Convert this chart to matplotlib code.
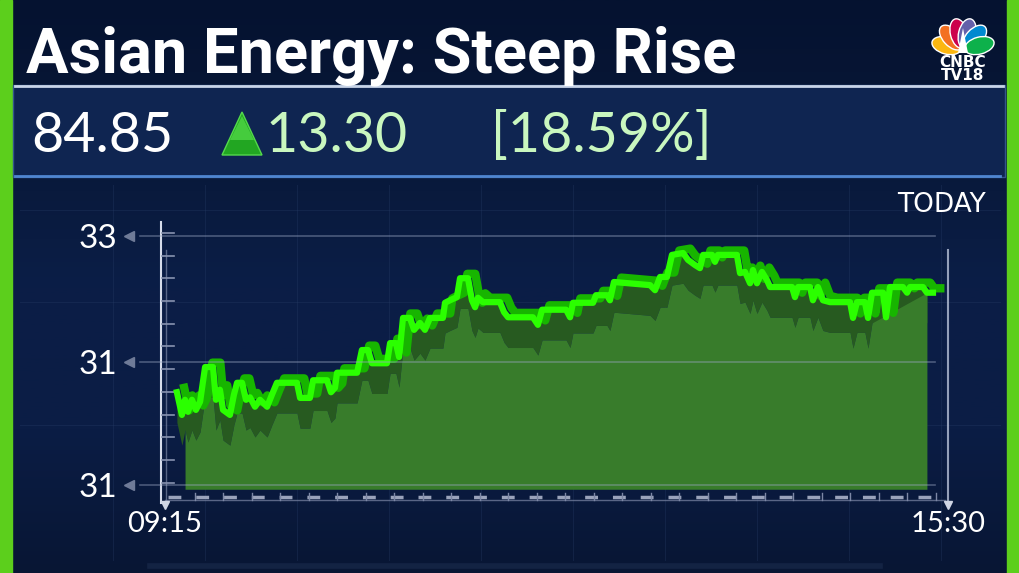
import numpy as np
import matplotlib.pyplot as plt
from matplotlib.patches import Rectangle, Polygon, Ellipse
from matplotlib.colors import LinearSegmentedColormap

# minutes after 09:15 and the price
times = [5.7, 8.1, 9.6, 11.0, 12.9, 14.8, 16.8, 19.2, 23.0, 24.4,
         26.3, 27.8, 31.1, 33.0, 34.5, 36.9, 38.8, 40.7, 43.1, 45.5,
         48.9, 51.2, 53.6, 63.2, 64.7, 69.4, 70.9, 77.6, 79.5, 81.4,
         82.4, 92.0, 94.3, 97.2, 99.1, 106.3, 107.8, 110.6, 112.1, 114.0,
         117.3, 119.3, 122.1, 124.5, 126.9, 133.1, 134.1, 136.5, 139.8, 141.3,
         145.1, 147.0, 148.5, 149.9, 152.3, 160.4, 162.4, 164.3, 176.2, 178.6,
         180.6, 192.1, 194.0, 195.4, 205.0, 206.4, 211.7, 213.1, 215.0, 232.3,
         234.7, 237.1, 240.4, 242.8, 248.1, 250.5, 253.8, 256.2, 257.7, 262.0,
         263.4, 264.8, 273.9, 275.4, 277.8, 280.2, 281.6, 283.5, 285.9, 288.3,
         289.8, 300.3, 301.7, 303.2, 308.9, 310.3, 312.7, 315.1, 318.5, 328.1,
         329.5, 331.4, 335.2, 336.7, 338.6, 343.9, 345.3, 347.2, 353.4, 355.4,
         356.8, 363.0, 364.9, 367.8]
prices = [30.52, 30.16, 30.40, 30.21, 30.40, 30.24, 30.37, 30.92, 30.92, 30.40,
          30.56, 30.24, 30.16, 30.48, 30.67, 30.67, 30.40, 30.44, 30.29, 30.40,
          30.29, 30.48, 30.67, 30.67, 30.43, 30.43, 30.71, 30.71, 30.52, 30.59,
          30.83, 30.83, 31.19, 31.19, 30.98, 30.98, 31.30, 31.30, 31.08, 31.70,
          31.70, 31.51, 31.62, 31.51, 31.70, 31.70, 31.94, 31.98, 32.03, 32.33,
          32.33, 31.98, 31.87, 32.02, 31.95, 31.95, 31.79, 31.71, 31.71, 31.59,
          31.83, 31.83, 31.71, 31.94, 31.94, 32.06, 32.06, 31.98, 32.27, 32.22,
          32.14, 32.35, 32.35, 32.70, 32.73, 32.62, 32.54, 32.49, 32.70, 32.70,
          32.59, 32.70, 32.70, 32.41, 32.43, 32.25, 32.46, 32.25, 32.43, 32.30,
          32.19, 32.19, 32.03, 32.19, 32.19, 31.98, 32.19, 31.98, 31.95, 31.95,
          31.70, 31.95, 31.95, 31.70, 32.10, 32.10, 31.71, 32.19, 32.19, 32.10,
          32.19, 32.19, 32.10, 32.10]

y_ticks = [29.05, 31, 33]
y_labels = ['31', '31', '33']
x_ticks = [0, 375]
x_labels = ['09:15', '15:30']

title = 'Asian Energy: Steep Rise'
last_price = '84.85'
change = '13.30'
change_pct = '[18.59%]'

W, H = 1019, 573
num_font = ['Lato', 'DejaVu Sans']
fig = plt.figure(figsize=(W / 100, H / 100), dpi=100)
fig.patch.set_facecolor('#0a1c42')

# background / frame, drawn in pixel units
bg = fig.add_axes([0, 0, 1, 1])
bg.set_xlim(0, W)
bg.set_ylim(H, 0)
bg.axis('off')

grad = np.linspace(0, 1, 256).reshape(-1, 1)
bg_cmap = LinearSegmentedColormap.from_list('bg', ['#051230', '#081838', '#0b1e47', '#0b1d45', '#081634'])
bg.imshow(grad, extent=[0, W, H, 0], aspect='auto', cmap=bg_cmap, zorder=0)

# faint background grid
for gx in np.arange(113, W, 92):
    bg.plot([gx, gx], [185, 560], color='#2a3f6a', lw=0.8, alpha=0.3, zorder=1)
for gy in [210, 302, 425]:
    bg.plot([20, 1000], [gy, gy], color='#2a3f6a', lw=0.8, alpha=0.3, zorder=1)

bg.add_patch(Rectangle((0, 0), 12, H, color='#5ccf1c', zorder=2))
bg.add_patch(Rectangle((1007, 0), 12, H, color='#5ccf1c', zorder=2))

# quote box
bg.add_patch(Rectangle((13, 85), 992, 92, fc='#0f2551', ec='#34568a', lw=1, zorder=2))
bg.plot([15, 1003], [86, 86], color='#c8d4e8', lw=2, zorder=3)
bg.plot([15, 1000], [176, 176], color='#4f86d0', lw=2, zorder=3)

bg.text(26, 73, title, fontsize=45.5, fontweight='bold', color='white',
        family=['Roboto', 'DejaVu Sans'], va='baseline', zorder=4)
bg.text(31, 152, last_price, fontsize=40, color='white', family=num_font, va='baseline', zorder=4)
bg.text(266, 152, change, fontsize=40, color='#c9f7bf', family=num_font, va='baseline', zorder=4)
bg.text(491, 152, change_pct, fontsize=40, color='#c9f7bf', family=num_font, va='baseline', zorder=4)
bg.add_patch(Polygon([(222, 155), (262, 155), (242, 112)], closed=True, fc='#22a622', ec='#54d94c', lw=1, zorder=4))
bg.add_patch(Polygon([(230, 140), (254, 140), (242, 116)], closed=True, fc='#45cc3d', ec='none', zorder=4))

bg.text(986, 212, 'TODAY', fontsize=19, color='white', family=['DejaVu Sans'], ha='right', va='baseline', zorder=4)

# CNBC TV18 logo
logo_colors = ['#fcb711', '#f37021', '#cc004c', '#6460aa', '#0089d0', '#0db14b']
for ang, col in zip([165, 133, 104, 76, 47, 15], logo_colors):
    a = np.radians(ang)
    bg.add_patch(Ellipse((963 + 17 * np.cos(a), 50 - 17 * np.sin(a)), 30, 17, angle=-ang,
                         fc=col, ec='white', lw=1, zorder=4))
bg.add_patch(Polygon([(958, 53), (968, 53), (963, 28)], closed=True, fc='white', zorder=5))
bg.text(963, 67, 'CNBC', fontsize=11, fontweight='bold', color='white', family=['DejaVu Sans'],
        ha='center', va='baseline', zorder=4)
bg.text(963, 80, 'TV18', fontsize=11, fontweight='bold', color='white', family=['DejaVu Sans'],
        ha='center', va='baseline', zorder=4)

# axis furniture
bg.plot([161, 161], [222, 503], color='#d6dcea', lw=1.5, zorder=3)
bg.plot([166, 166], [250, 500], color='#8c98b5', lw=1, alpha=0.6, zorder=3)
for py in np.arange(233, 500, 22.7):
    bg.plot([162, 174], [py, py], color='#8893b0', lw=1.2, zorder=3)
bg.plot([948, 948], [250, 505], color='#b8c2d8', lw=1.5, alpha=0.8, zorder=3)
bg.plot([165, 945], [500, 500], color='#7d88a6', lw=1, alpha=0.7, zorder=3)
bg.plot([168, 945], [497, 497], color='#9aa3bb', lw=2.5, dashes=(3.7, 4.3), zorder=3)
for tx in np.arange(195, 940, 28.5):
    bg.plot([tx, tx], [493, 500], color='#7d88a6', lw=1, zorder=3)
bg.plot([165, 948], [505, 505], 'v', color='#d0d6e4', ms=6, zorder=3)
bg.plot([150, 880], [566, 566], color='#4a5f8c', lw=4, alpha=0.18, zorder=1)

# price chart
ax = fig.add_axes([165 / W, (H - 500) / H, 783 / W, 275 / H])
ax.set_xlim(0, 375)
ax.set_ylim(33 - 264 / 63, 33 + 11 / 63)
ax.patch.set_alpha(0)
for s in ax.spines.values():
    s.set_visible(False)

t = np.array(times)
p = np.array(prices)
depth = 0.48
base = 28.98

ax.fill_between(t, p - depth, p, where=t <= t[-2], color='#275a20', lw=0, zorder=1)
keep = (t >= 9.6) & (t <= 343)
t_fill = np.append(t[keep], t[-2])
p_fill = np.append(p[keep] - depth, p[-1])
ax.fill_between(t_fill, base, p_fill, color='#387c2b', lw=0, zorder=2)
ax.plot(t + 3.5, p + 0.07, color='#17b500', lw=6, zorder=3)
ax.plot(t, p, color='#2bff00', lw=4.5, zorder=4)

yx = ax.get_yaxis_transform()
for v in y_ticks:
    ax.plot([-0.032, 0.983], [v, v], transform=yx, color='#9aa6c2', alpha=0.45, lw=1.2,
            clip_on=False, zorder=5)
    ax.plot([-0.046], [v], marker='<', ms=7, color='#6f7b98', transform=yx, clip_on=False, zorder=5)

ax.set_yticks(y_ticks, y_labels)
ax.set_xticks(x_ticks, x_labels)
ax.tick_params(axis='y', length=0, pad=34, labelsize=24, labelcolor='white')
ax.tick_params(axis='x', length=0, pad=8, labelsize=21, labelcolor='white')
for lab in ax.get_xticklabels() + ax.get_yticklabels():
    lab.set_family(num_font)

fig.savefig('out.png', dpi=100, facecolor=fig.get_facecolor())
